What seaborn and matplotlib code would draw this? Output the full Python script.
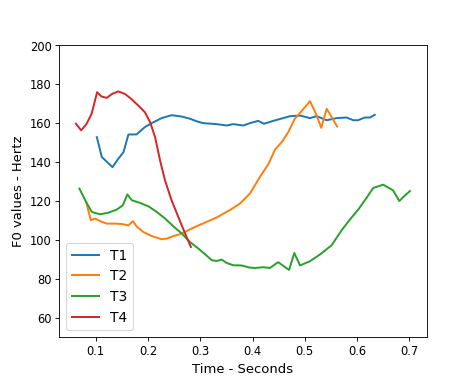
import pandas as pd
import numpy as np
import matplotlib.pyplot as plt
import seaborn as sns

# values (time in s, F0 in Hz)
t1_x = [0.102, 0.1115, 0.132, 0.143, 0.153, 0.1625, 0.178, 0.194, 0.207, 0.226, 0.245,
        0.2645, 0.280, 0.296, 0.306, 0.3315, 0.3505, 0.363, 0.3825, 0.395, 0.411, 0.422,
        0.440, 0.472, 0.491, 0.510, 0.523, 0.542, 0.561, 0.580, 0.593, 0.602, 0.615,
        0.625, 0.634]
t1_y = [152.8, 142.6, 137.4, 141.7, 145.1, 154.2, 154.2, 158.0, 160.0, 162.6, 164.1,
        163.4, 162.3, 160.7, 160.0, 159.5, 158.8, 159.5, 158.8, 160.0, 161.2, 159.7,
        161.2, 163.6, 163.9, 162.6, 163.6, 161.5, 162.6, 162.9, 161.5, 161.5, 162.9,
        162.9, 164.3]

t2_x = [0.0815, 0.0905, 0.0987, 0.108, 0.121, 0.137, 0.150, 0.1625, 0.171, 0.178, 0.191,
        0.207, 0.226, 0.236, 0.2485, 0.261, 0.274, 0.290, 0.309, 0.331, 0.357, 0.376,
        0.395, 0.414, 0.430, 0.443, 0.456, 0.4685, 0.481, 0.494, 0.510, 0.5215, 0.5316,
        0.542, 0.5515, 0.562]
t2_y = [119.5, 110.1, 111.0, 109.7, 108.4, 108.4, 108.2, 107.5, 109.7, 107.0, 104.1,
        102.0, 100.4, 100.7, 102.0, 102.9, 104.6, 106.7, 108.9, 111.5, 115.4, 118.7,
        123.8, 132.3, 138.8, 146.4, 150.3, 155.4, 162.3, 166.2, 171.3, 164.8, 157.6,
        167.4, 163.1, 158.3]

t3_x = [0.0686, 0.0815, 0.0923, 0.108, 0.124, 0.140, 0.1517, 0.1605, 0.169, 0.185, 0.2006,
        0.2167, 0.2326, 0.2485, 0.2645, 0.280, 0.2963, 0.309, 0.322, 0.331, 0.341, 0.3506,
        0.363, 0.379, 0.395, 0.405, 0.4207, 0.4335, 0.449, 0.470, 0.480, 0.491, 0.510,
        0.529, 0.5515, 0.5706, 0.5865, 0.6024, 0.6185, 0.631, 0.650, 0.669, 0.681, 0.692,
        0.7013]
t3_y = [126.4, 119.5, 114.4, 113.2, 114.0, 115.6, 117.8, 123.4, 120.4, 119.0, 117.3,
        114.4, 111.0, 107.0, 103.3, 99.0, 95.6, 92.7, 89.6, 89.2, 89.9, 88.2,
        87.0, 86.9, 85.8, 85.6, 86.0, 85.6, 88.6, 84.6, 93.3, 86.9, 89.1,
        92.5, 97.3, 105.0, 110.5, 115.6, 121.7, 126.7, 128.4, 125.5, 120.0, 122.9,
        125.1]

t4_x = [0.062, 0.072, 0.082, 0.092, 0.1025, 0.111, 0.121, 0.131, 0.143, 0.156, 0.169,
        0.1815, 0.194, 0.204, 0.2135, 0.223, 0.2325, 0.245, 0.258, 0.271, 0.282]
t4_y = [159.7, 156.3, 159.5, 164.8, 175.9, 173.7, 173.0, 175.0, 176.3, 175.0, 172.2,
        169.0, 165.6, 160.5, 152.8, 140.9, 130.6, 120.4, 111.8, 103.3, 96.4]

tones = ['T1', 'T2', 'T3', 'T4']
xs = [t1_x, t2_x, t3_x, t4_x]
ys = [t1_y, t2_y, t3_y, t4_y]

data = pd.concat([pd.DataFrame({'time': x, 'f0': y, 'tone': t})
                  for t, x, y in zip(tones, xs, ys)], ignore_index=True)

fig, ax = plt.subplots(figsize=(6, 4.8), dpi=79)
sns.lineplot(x='time', y='f0', hue='tone', data=data, palette='tab10',
             sort=False, estimator=None, linewidth=1.8, ax=ax)
ax.set_ylim(50, 200)
ax.tick_params(labelsize=10.5)
ax.set_xlabel('Time - Seconds', fontsize=12)
ax.set_ylabel('F0 values - Hertz', fontsize=12)
sns.move_legend(ax, 'lower left', title=None, fontsize=12.5)

plt.savefig('out.png', dpi=79)
